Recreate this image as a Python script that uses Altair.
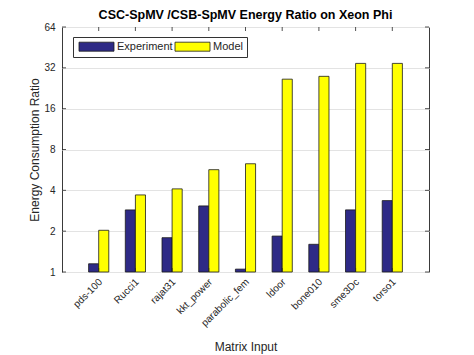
import altair as alt
import pandas as pd

categories = ["pds-100", "Rucci1", "rajat31", "kkt_power", "parabolic_fem",
              "ldoor", "bone010", "sme3Dc", "torso1"]
experiment = [1.15, 2.87, 1.79, 3.07, 1.05, 1.84, 1.60, 2.87, 3.36]
model = [2.03, 3.70, 4.10, 5.68, 6.28, 26.4, 27.7, 34.5, 34.5]
series = ["Experiment", "Model"]
colors = ["#2E2A86", "#FFFF00"]
y_ticks = [1, 2, 4, 8, 16, 32, 64]

rows = []
for c, e, m in zip(categories, experiment, model):
    rows.append({"cat": c, "series": "Experiment", "val": e})
    rows.append({"cat": c, "series": "Model", "val": m})
df = pd.DataFrame(rows)
tick_df = pd.DataFrame({"t": y_ticks})
cat_df = pd.DataFrame({"cat": categories})

W, H = 367, 245
FONT = "Liberation Sans"
AX = "#262626"

xscale = alt.Scale(domain=categories, paddingInner=0.45, paddingOuter=0.725)
yscale = alt.Scale(type="log", domain=[1, 64], nice=False)

bars = alt.Chart(df).mark_bar(stroke="#1a1a1a", strokeWidth=0.8).encode(
    x=alt.X("cat:N", scale=xscale, sort=categories, title="Matrix Input",
            axis=alt.Axis(labelAngle=315, labelAlign="right", labelBaseline="middle",
                          labelPadding=8, labelOffset=2, ticks=False, domain=False,
                          labelFontSize=10, labelColor=AX, titleFontSize=12,
                          titleFontWeight="normal", titleColor=AX,
                          titleY=74, titleBaseline="middle",
                          labelFont=FONT, titleFont=FONT)),
    xOffset=alt.XOffset("series:N", sort=series,
                        scale=alt.Scale(paddingInner=0, paddingOuter=0)),
    y=alt.Y("val:Q", scale=yscale, title="Energy Consumption Ratio",
            axis=alt.Axis(values=y_ticks, ticks=False, domain=False, grid=True,
                          gridColor="#E3E3E3", gridWidth=1, labelPadding=7,
                          labelFontSize=10, labelColor=AX, titleFontSize=12,
                          titleFontWeight="normal", titleColor=AX,
                          titleX=-28, titleBaseline="middle",
                          labelFont=FONT, titleFont=FONT)),
    y2=alt.Y2(datum=1),
    color=alt.Color("series:N", sort=series,
                    scale=alt.Scale(domain=series, range=colors),
                    legend=alt.Legend(
                        title=None, orient="none", legendX=11, legendY=10,
                        direction="horizontal",
                        symbolType="M-0.7,-0.9 L6.3,-0.9 L6.3,0.9 L-0.7,0.9 Z",
                        symbolSize=100, symbolOffset=0, labelOffset=29,
                        symbolStrokeColor="#1a1a1a", symbolStrokeWidth=0.8,
                        symbolOpacity=1,
                        columnPadding=0, padding=4,
                        strokeColor="#333333", fillColor="#ffffff",
                        labelFont=FONT, labelFontSize=11, labelColor=AX)),
)

left_ticks = alt.Chart(tick_df).mark_rule(color=AX, strokeWidth=0.8).encode(
    y=alt.Y("t:Q", scale=yscale), x=alt.value(0), x2=alt.value(4))
right_ticks = alt.Chart(tick_df).mark_rule(color=AX, strokeWidth=0.8).encode(
    y=alt.Y("t:Q", scale=yscale), x=alt.value(W - 4), x2=alt.value(W))
bottom_ticks = alt.Chart(cat_df).mark_rule(color=AX, strokeWidth=0.8).encode(
    x=alt.X("cat:N", scale=xscale, sort=categories, bandPosition=0.5),
    y=alt.value(H), y2=alt.value(H - 4))
top_ticks = alt.Chart(cat_df).mark_rule(color=AX, strokeWidth=0.8).encode(
    x=alt.X("cat:N", scale=xscale, sort=categories, bandPosition=0.5),
    y=alt.value(0), y2=alt.value(4))

chart = alt.layer(bars, left_ticks, right_ticks, bottom_ticks, top_ticks).properties(
    width=W, height=H,
    title=alt.TitleParams("CSC-SpMV /CSB-SpMV Energy Ratio on Xeon Phi",
                          font=FONT, fontSize=12.5, fontWeight="bold",
                          color="#000000", anchor="middle", offset=1),
    autosize=alt.AutoSizeParams(type="none"),
    padding={"left": 62, "top": 27, "right": 45, "bottom": 83},
    background="#ffffff",
).configure_view(stroke="#3a3a3a", strokeWidth=1)

chart.save("out.html", embed_options={"renderer": "svg", "actions": False})
